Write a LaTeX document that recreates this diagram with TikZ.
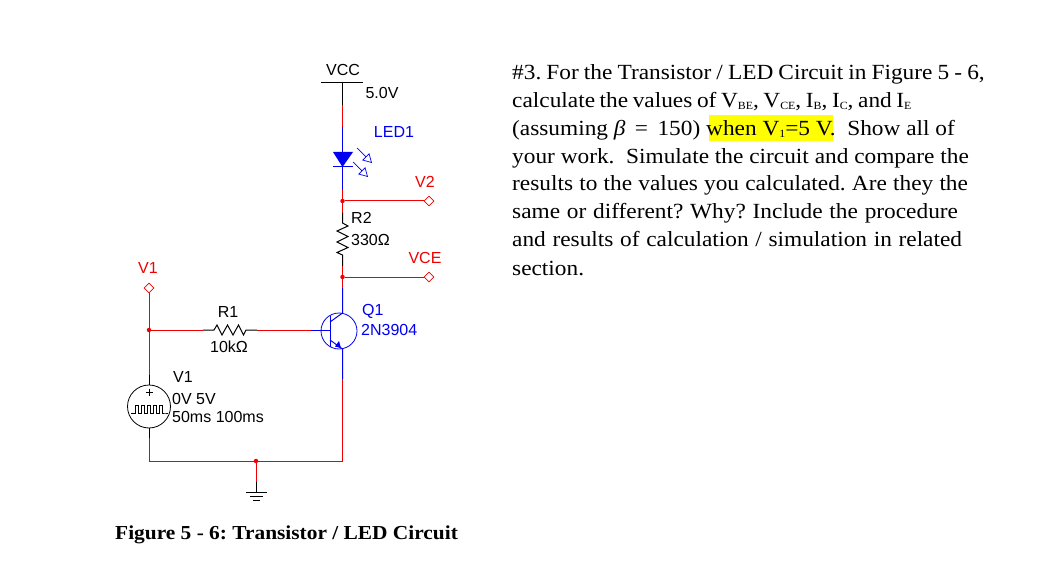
\documentclass[tikz,border=0pt]{standalone}
\usepackage{fontspec}
\setmainfont[FakeStretch=1.08]{Liberation Serif}
\newfontfamily\arialf{Liberation Sans}
\usetikzlibrary{shapes.geometric,arrows.meta}
\definecolor{wirered}{RGB}{240,0,0}
\definecolor{partblue}{RGB}{0,0,240}
\definecolor{hl}{RGB}{255,255,0}
\newcommand{\subt}[1]{\raisebox{-2pt}{\fontsize{11}{11}\selectfont #1}}
\frenchspacing
\tikzset{
  x=1pt,y=-1pt,
  wire/.style={wirered,line width=1pt},
  bwire/.style={black,line width=1pt},
  blwire/.style={partblue,line width=1pt},
  dotn/.style={circle,fill=wirered,inner sep=0pt,minimum size=4.5pt},
  probe/.style={diamond,draw=wirered,fill=white,line width=0.8pt,inner sep=0pt,minimum size=10pt},
  lab/.style={font=\arialf\fontsize{16}{16}\selectfont,inner sep=0pt},
  para/.style={anchor=base west,inner sep=0pt,font=\fontsize{21.6}{21.6}\selectfont},
}
\begin{document}
\begin{tikzpicture}
\useasboundingbox (0,0) rectangle (1055,564);
\fill[white] (0,0) rectangle (1055,564);
% junctions and probes
\node[dotn] (j2) at (342.5,201) {};
\node[dotn] (jce) at (342.5,277) {};
\node[dotn] (jb) at (149,330) {};
\node[dotn] (jg) at (256,461) {};
\node[probe] (p2) at (429,201) {};
\node[probe] (pce) at (429,277) {};
\node[probe] (p1) at (149,288) {};
% VCC and LED
\coordinate (vcc) at (342.5,83);
\coordinate (vl) at (321,83);
\coordinate (vr) at (363,83);
\coordinate (a1) at (342.5,105);
\coordinate (a2) at (342.5,127);
\coordinate (a3) at (342.5,190);
\draw[bwire] (vl) -- (vr);
\draw[bwire] (vcc) -- (a1);
\draw[wire] (a1) -- (a2);
\draw[blwire] (a2) -- (a3);
\draw[wire] (a3) -- (j2);
\fill[partblue] (333,152) -- (353,152) -- (342.5,167) -- cycle;
\draw[blwire] (333,167) -- (353,167);
\foreach \dx/\dy in {0/0,-4/14}{
  \draw[partblue,line width=0.7pt,-{Triangle[open,length=9pt,width=10pt]}] (357+\dx,148+\dy) -- (372+\dx,163+\dy);
}
% R2
\coordinate (r2a) at (342.5,213);
\coordinate (r2b) at (342.5,223);
\coordinate (r2c) at (342.5,255);
\coordinate (r2d) at (342.5,266);
\draw[wire] (j2) -- (r2a);
\draw[bwire] (r2a) -- (r2b) -- ++(5.5,3) -- ++(-11,5) -- ++(11,5.5) -- ++(-11,5.5) -- ++(11,5.5) -- ++(-11,5) -- (r2c) -- (r2d);
\draw[wire] (r2d) -- (jce);
\draw[wire] (j2) -- (p2);
\draw[wire] (jce) -- (pce);
% Transistor
\coordinate (c1) at (342.5,288);
\coordinate (c2) at (342.5,313);
\coordinate (e1) at (342.5,349);
\coordinate (e2) at (342.5,379);
\coordinate (b1) at (311,330);
\coordinate (b2) at (330,330);
\node[circle,draw=partblue,line width=0.8pt,minimum size=36pt,inner sep=0pt] (q) at (339,331) {};
\draw[wire] (jce) -- (c1);
\draw[blwire] (c1) -- (c2) -- (330,322);
\draw[blwire] (330,316) -- (330,347);
\draw[blwire] (b1) -- (b2);
\draw[blwire] (330,340) -- (e1) -- (e2);
\fill[partblue] (341,348) -- (335,346.5) -- (339,341) -- cycle;
% Base, R1
\coordinate (r1a) at (203,330);
\coordinate (r1b) at (214,330);
\coordinate (r1c) at (246,330);
\coordinate (r1d) at (257,330);
\draw[wire] (p1) -- (jb);
\draw[wire] (jb) -- (r1a);
\draw[bwire] (r1a) -- (r1b) -- ++(3,-5) -- ++(5,10) -- ++(5.5,-10) -- ++(5.5,10) -- ++(5.5,-10) -- ++(5,10) -- (r1c) -- (r1d);
\draw[wire] (r1d) -- (b1);
% Source
\coordinate (s1) at (149,375);
\coordinate (s2) at (149,385);
\coordinate (s3) at (149,428);
\coordinate (s4) at (149,438);
\coordinate (s5) at (149,461);
\coordinate (s6) at (342.5,461);
\node[circle,draw=black,line width=0.8pt,minimum size=43pt,inner sep=0pt] (src) at (149,406.5) {};
\draw[wire] (jb) -- (s1);
\draw[bwire] (s1) -- (s2);
\draw[bwire] (s3) -- (s4);
\draw[wire] (s4) -- (s5) -- (s6) -- (e2);
\draw[bwire,line width=0.7pt] (146,392) -- (153,392) (149.5,388.5) -- (149.5,395.5);
\draw[bwire,line width=0.8pt] (131,413) -- (135,413) -- (135,405) -- (138,405) -- (138,413) -- (141,413) -- (141,405) -- (144,405) -- (144,413) -- (147,413) -- (147,405) -- (150,405) -- (150,413) -- (153,413) -- (153,405) -- (156,405) -- (156,413) -- (159,413) -- (159,405) -- (162,405) -- (162,413) -- (165,413) -- (168,413);
% Ground
\coordinate (g1) at (256,482);
\coordinate (g2) at (256,492);
\draw[wire] (jg) -- (g1);
\draw[bwire] (g1) -- (g2);
\draw[bwire] (246,492) -- (267,492) (250,496) -- (263,496) (253,500) -- (260,500);
% Labels
\node[lab] (tvcc) at (343,70) {VCC};
\node[lab] (t5v) at (382,93) {5.0V};
\node[lab,text=partblue] (tled) at (394,132) {LED1};
\node[lab,text=wirered] (tv2) at (425,182) {V2};
\node[lab,anchor=west] (tr2) at (351,218) {R2};
\node[lab,anchor=west] (t330) at (351,240) {330Ω};
\node[lab,text=wirered] (tvce) at (425,258) {VCE};
\node[lab,text=partblue,anchor=west] (tq1) at (362,311) {Q1};
\node[lab,text=partblue,anchor=west] (tq2) at (361,330) {2N3904};
\node[lab,text=wirered] (tv1) at (148,268) {V1};
\node[lab] (tr1) at (228,312) {R1};
\node[lab] (t10k) at (229,347) {10kΩ};
\node[lab,anchor=west] (ts1) at (173,377) {V1};
\node[lab,anchor=west] (ts2) at (172,399) {0V 5V};
\node[lab,anchor=west] (ts3) at (172,417) {50ms 100ms};
% Text
\fill[hl] (709,115) rectangle (833,141);
\node[para] (l1) at (512,80) {\spaceskip=5.1pt \#3. For the Transistor / LED Circuit in Figure 5 - 6,};
\node[para] (l2) at (512,108) {\spaceskip=4.6pt calculate the values of V\subt{BE}, V\subt{CE}, I\subt{B}, I\subt{C}, and I\subt{E}};
\node[para] (l3) at (512,136) {(assuming {\itshape β}\ \,=\ \,150) when V\subt{1}=5 V.\ \ Show all of};
\node[para] (l4) at (512,164) {your work.\ \ Simulate the circuit and compare the};
\node[para] (l5) at (512,191) {\spaceskip=6.2pt results to the values you calculated. Are they the};
\node[para] (l6) at (512,219) {\spaceskip=6.8pt same or different? Why? Include the procedure};
\node[para] (l7) at (512,247) {\spaceskip=6.7pt and results of calculation / simulation in related};
\node[para] (l8) at (512,275) {section.};
\node[para,font=\bfseries\fontsize{19.8}{19.8}\selectfont] (cap) at (115,539) {Figure 5 - 6: Transistor / LED Circuit};
\end{tikzpicture}
\end{document}
